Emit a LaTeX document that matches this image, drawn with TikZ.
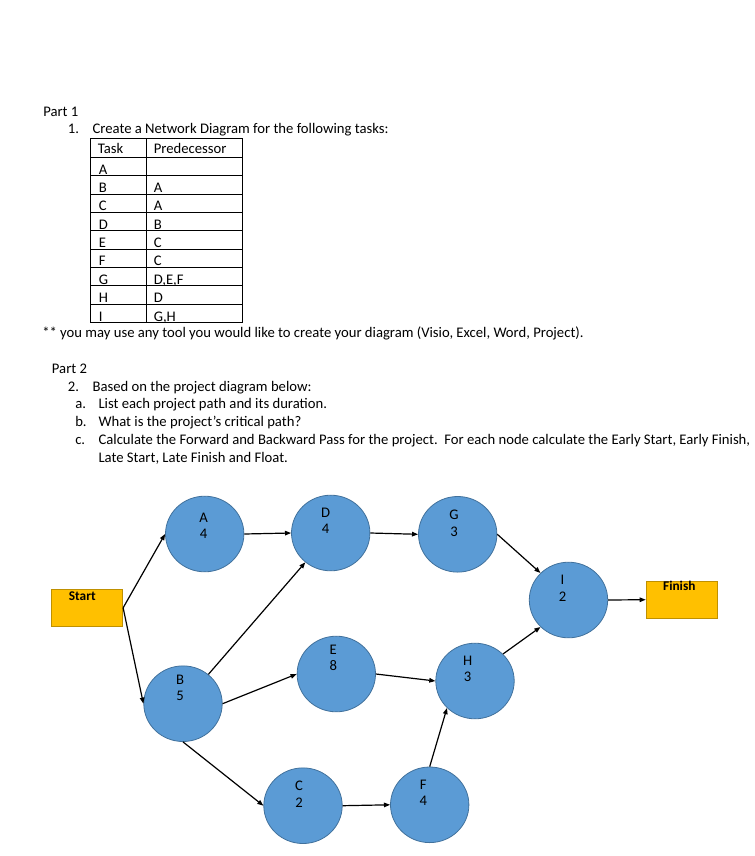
\documentclass[tikz,border=0pt]{standalone}
\usepackage{fontspec}
\setmainfont{Carlito}
\usetikzlibrary{shapes.geometric,arrows.meta}
\definecolor{taskblue}{HTML}{5B9BD5}
\definecolor{taskedge}{HTML}{41719C}
\definecolor{boxgold}{HTML}{FFC000}
\definecolor{boxedge}{HTML}{BF9000}
\tikzset{
  txt/.style={anchor=base west, inner sep=0pt},
  task/.style={ellipse, fill=taskblue, draw=taskedge, line width=0.6pt,
    minimum width=58.8pt, minimum height=56.7pt, inner sep=0pt},
  tasklbl/.style={align=center, inner sep=0pt, font=\fontsize{11}{12.5}\selectfont},
  endbox/.style={rectangle, fill=boxgold, draw=boxedge, line width=0.6pt,
    minimum width=53.6pt, minimum height=28.1pt, inner sep=0pt},
  endlbl/.style={anchor=base, inner sep=0pt, font=\bfseries},
  link/.style={-{Triangle[length=4.6pt,width=3.4pt]}, line width=0.9pt},
}

\begin{document}
\begin{tikzpicture}[x=0.75pt, y=-0.75pt, font=\fontsize{11}{13.4}\selectfont]
    \useasboundingbox (0,0) rectangle (755,856);
    % Part 1, task table
    \node[txt] at (43,116.7) {Part 1};
    \node[txt] at (67.7,133.3) {1.};
    \node[txt] at (92.3,133.3) {Create a Network Diagram for the following tasks:};
    \draw[line width=0.75pt] (90.3,138.3) rectangle (242,322.7);
    \draw[line width=0.75pt] (146,138.3) -- (146,322.7);
    \draw[line width=0.75pt] (90.3,157.3) -- (242,157.3);
    \node[txt] at (97.7,153.3) {Task};
    \node[txt] at (153.5,153.3) {Predecessor};
    \foreach \tsk/\prd [count=\i] in {A/{},B/A,C/A,D/B,E/C,F/C,G/{D,E,F},H/D,I/{G,H}} {
        \draw[line width=0.75pt] (90.3,157.3+18.38*\i) -- (242,157.3+18.38*\i);
        \node[txt] at (98.5,155.7+18.38*\i) {\tsk};
        \node[txt] at (153.5,155.7+18.38*\i) {\prd};
    }
    \node[txt] at (42,337.5) {** you may use any tool you would like to create your diagram (Visio, Excel, Word, Project).};
    % Part 2, questions
    \node[txt] at (51.7,373.3) {Part 2};
    \node[txt] at (67.7,391) {2.};
    \node[txt] at (92.3,391) {Based on the project diagram below:};
    \node[txt] at (75,408.7) {a.};
    \node[txt] at (98.3,408.7) {List each project path and its duration.};
    \node[txt] at (75,426.7) {b.};
    \node[txt] at (98.3,426.7) {What is the project’s critical path?};
    \node[txt] at (75,444.7) {c.};
    \node[txt] at (98.3,444.7) {Calculate the Forward and Backward Pass for the project.\ \ For each node calculate the Early Start, Early Finish,};
    \node[txt] at (98.3,462.7) {Late Start, Late Finish and Float.};
    % network
    \node[endbox] (start) at (87,607.8) {};
    \node[endbox] (finish) at (681.9,599.7) {};
    \node[endlbl] at (82.3,600.7) {Start};
    \node[endlbl] at (679.3,590.7) {Finish};
    \node[task] (A) at (204.7,534) {};
    \node[task] (D) at (330.7,533) {};
    \node[task] (G) at (457.7,534.3) {};
    \node[task] (I) at (568.5,600) {};
    \node[task] (E) at (336.3,674) {};
    \node[task] (B) at (183,703.7) {};
    \node[task] (H) at (475,681) {};
    \node[task] (C) at (303,805.7) {};
    \node[task] (F) at (429.7,804.8) {};
    \node[tasklbl] at (203.7,525.9) {A\\4};
    \node[tasklbl] at (325.7,520.8) {D\\4};
    \node[tasklbl] at (454,523) {G\\3};
    \node[tasklbl] at (562.5,588) {I\\2};
    \node[tasklbl] at (333.3,658) {E\\8};
    \node[tasklbl] at (180,688) {B\\5};
    \node[tasklbl] at (467.7,669) {H\\3};
    \node[tasklbl] at (299,794.2) {C\\2};
    \node[tasklbl] at (423.3,792.7) {F\\4};
    \draw[link] (start.east) -- (A.west);
    \draw[link] (start.east) -- (B.west);
    \draw[link] (A.east) -- (D.west);
    \draw[link] (B) -- (D);
    \draw[link] (B.east) -- (E.west);
    \draw[link] (B.south) -- (C.west);
    \draw[link] (D.east) -- (G.west);
    \draw[link] (E.east) -- (H.west);
    \draw[link] (C.east) -- (F.west);
    \draw[link] (F.north) -- (H.south west);
    \draw[link] (G.east) -- (I.north west);
    \draw[link] (H.north east) -- (I.south west);
    \draw[link] (I.east) -- (finish.west);
\end{tikzpicture}
\end{document}
